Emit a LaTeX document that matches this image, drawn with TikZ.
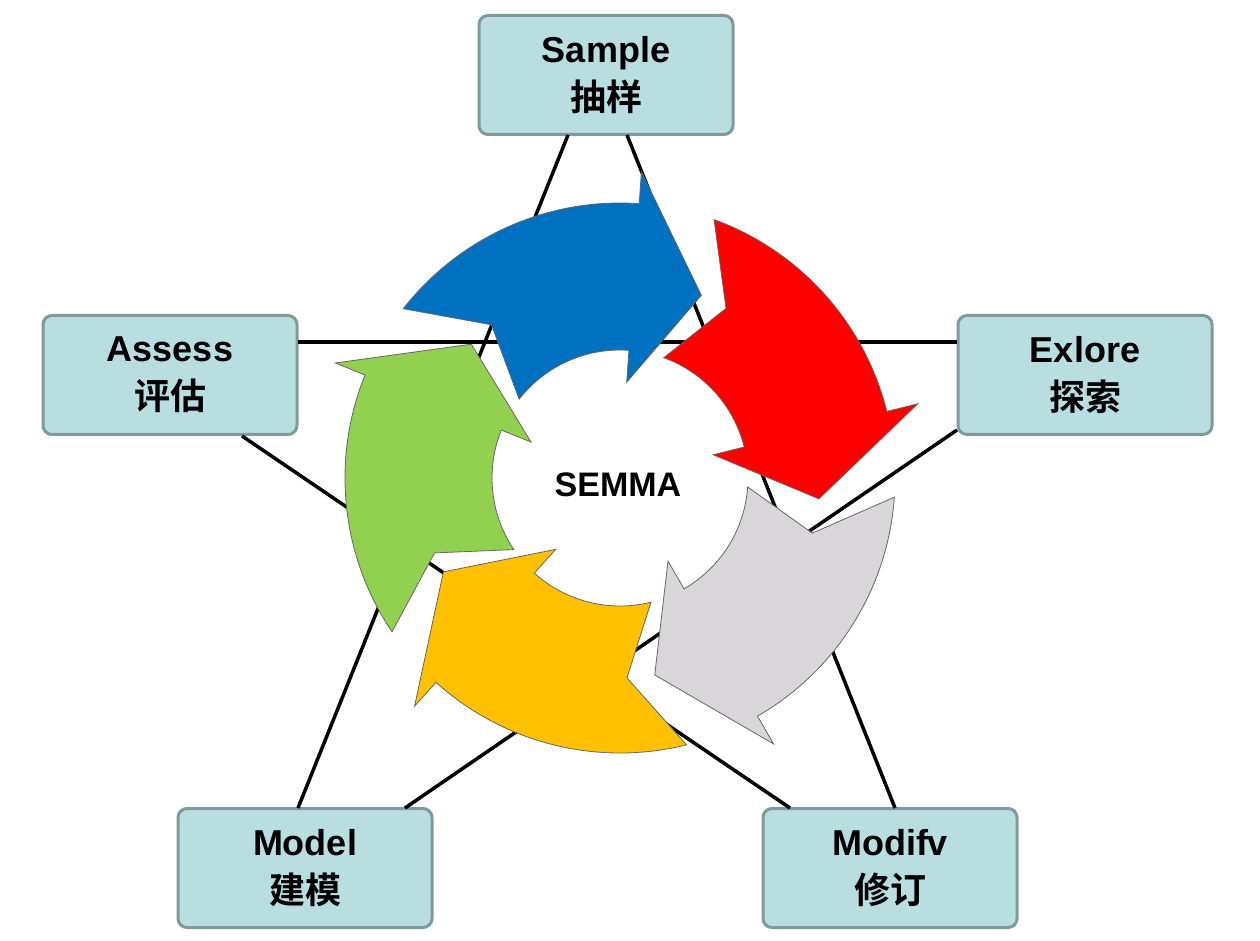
\documentclass[tikz,border=0pt]{standalone}
\usepackage{fontspec}
\setmainfont{Liberation Sans}
\newfontfamily\cjk{Noto Sans CJK SC}[BoldFont={Noto Sans CJK SC Bold}]
\begin{document}
\begin{tikzpicture}[x=1pt,y=1pt,
 box/.style={draw=boxline,line width=3pt,fill=boxfill,rounded corners=9pt,minimum width=254pt,minimum height=119pt,align=center,font=\fontsize{36}{48}\selectfont\bfseries},
 star/.style={line width=3.5pt,black},
 arr/.style={draw=black!60,line width=0.8pt}]
\definecolor{boxfill}{HTML}{B9DEE0}
\definecolor{boxline}{HTML}{7F9A9A}
\useasboundingbox (0,0) rectangle (1260,940);
\fill[white] (0,0) rectangle (1260,940);
\node[box] (s) at (606,865) {Sample\\{\cjk\bfseries 抽样}};
\node[box] (a) at (170,565) {Assess\\{\cjk\bfseries 评估}};
\node[box] (e) at (1085,565) {Exlore\\{\cjk\bfseries 探索}};
\node[box] (m) at (305,72) {Model\\{\cjk\bfseries 建模}};
\node[box] (f) at (890,72) {Modifv\\{\cjk\bfseries 修订}};
\coordinate (s1) at (568,805); \coordinate (s2) at (627,805);
\coordinate (a1) at (298,598); \coordinate (a2) at (242,504);
\coordinate (e1) at (957,598); \coordinate (e2) at (957,510);
\coordinate (m1) at (298,132); \coordinate (m2) at (405,132);
\coordinate (f1) at (790,132); \coordinate (f2) at (895,132);
\draw[star] (s1) -- (m1); \draw[star] (s2) -- (f2);
\draw[star] (a1) -- (e1); \draw[star] (a2) -- (f1);
\draw[star] (e2) -- (m2);
\def\rin{128}\def\rout{275}\def\rmid{200}
\newcommand\semarrow[2]{%
 \pgfmathsetmacro\tb{#1-56}\pgfmathsetmacro\tp{#1-76}\pgfmathsetmacro\tn{#1-12}%
 \pgfmathsetmacro\ro{\rout+32}\pgfmathsetmacro\ri{\rin-32}%
 \draw[arr,fill=#2,shift={(620,462)}] (#1:\rout) arc[start angle=#1,end angle=\tb,radius=\rout]
  -- (\tb:\ro) -- (\tp:\rmid) -- (\tb:\ri) -- (\tb:\rin)
  arc[start angle=\tb,end angle=#1,radius=\rin] -- (\tn:\rmid) -- cycle;}
\definecolor{cb}{HTML}{0070C0}\definecolor{cr}{HTML}{FF0000}
\definecolor{cg}{HTML}{D9D6D9}\definecolor{cy}{HTML}{FFC000}\definecolor{cgr}{HTML}{92D050}
\semarrow{-76}{cy}
\semarrow{-4}{cg}
\semarrow{214}{cgr}
\semarrow{142}{cb}
\semarrow{70}{cr}
\node[font=\fontsize{34}{40}\selectfont\bfseries] (c) at (618,455) {SEMMA};
\end{tikzpicture}
\end{document}
